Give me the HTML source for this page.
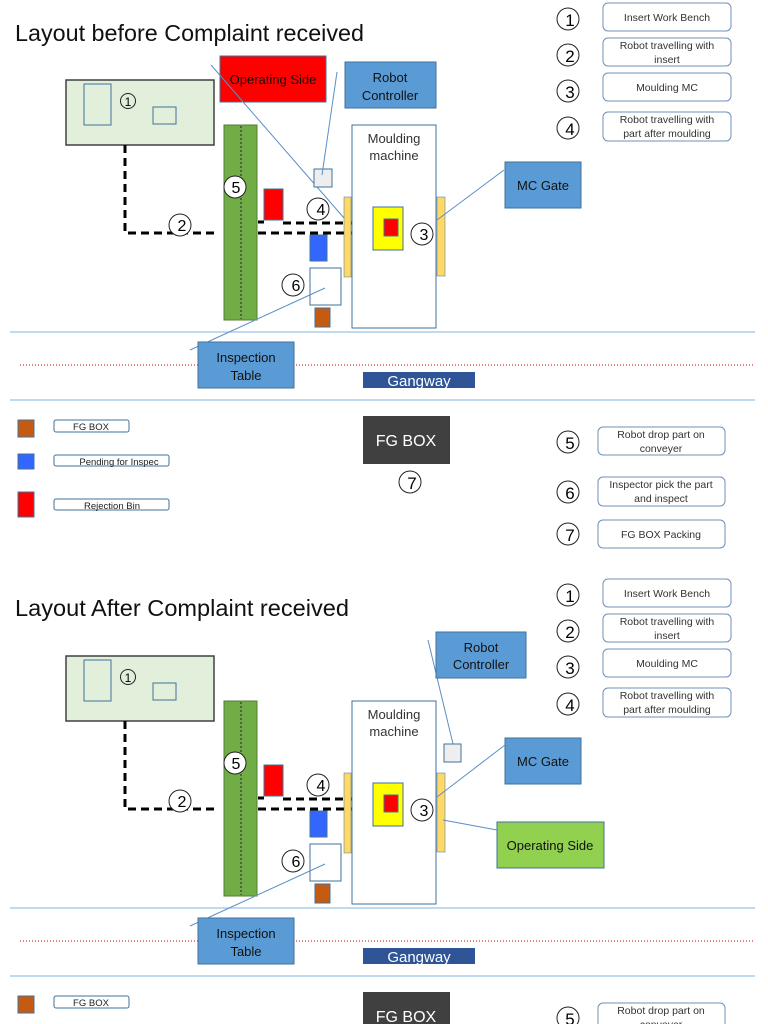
<!DOCTYPE html>
<html><head><meta charset="utf-8"><style>
html,body{margin:0;padding:0;background:#fff;}
svg{display:block;font-family:"Liberation Sans","DejaVu Sans",sans-serif;}
</style></head><body>
<svg width="768" height="1024" viewBox="0 0 768 1024" xmlns="http://www.w3.org/2000/svg">
<defs>
<g id="common">
  <rect x="66" y="80" width="148" height="65" fill="#e2efda" stroke="#404040" stroke-width="1.5"/>
  <rect x="84" y="84" width="27" height="41" fill="none" stroke="#41719c" stroke-width="1"/>
  <rect x="153" y="107" width="23" height="17" fill="none" stroke="#41719c" stroke-width="1"/>
  <circle cx="128" cy="101" r="7.5" fill="none" stroke="#222" stroke-width="1"/>
  <text x="128" y="106" font-size="12" text-anchor="middle">1</text>
  <path d="M125 145 V233 H218" fill="none" stroke="#000" stroke-width="3" stroke-dasharray="8,5"/>
  <path d="M258 233 H368" fill="none" stroke="#000" stroke-width="3" stroke-dasharray="8,5"/>
  <path d="M258 222 H264 M283 223 H368" fill="none" stroke="#000" stroke-width="3" stroke-dasharray="8,5"/>
  <rect x="224" y="125" width="33" height="195" fill="#70ad47" stroke="#507e32" stroke-width="1"/>
  <line x1="241" y1="126" x2="241" y2="319" stroke="#222" stroke-width="1" stroke-dasharray="2,2"/>
  <circle cx="235" cy="187" r="11" fill="#fff" stroke="#222" stroke-width="1"/>
  <text x="236" y="193" font-size="16" text-anchor="middle">5</text>
  <rect x="264" y="189" width="19" height="31" fill="#f00" stroke="#41719c" stroke-width="1"/>
  <circle cx="180" cy="225" r="11" fill="#fff" stroke="#222" stroke-width="1"/>
  <text x="182" y="231" font-size="16" text-anchor="middle">2</text>
  <circle cx="318" cy="209" r="11" fill="#fff" stroke="#222" stroke-width="1"/>
  <text x="321" y="215" font-size="16" text-anchor="middle">4</text>
  <rect x="310" y="235" width="17" height="26" fill="#3366ff" stroke="#41719c" stroke-width="1"/>
  <rect x="310" y="268" width="31" height="37" fill="#fff" stroke="#41719c" stroke-width="1"/>
  <circle cx="293" cy="285" r="11" fill="#fff" stroke="#222" stroke-width="1"/>
  <text x="296" y="291" font-size="16" text-anchor="middle">6</text>
  <rect x="315" y="308" width="15" height="19" fill="#c55a11" stroke="#41719c" stroke-width="1"/>
  <rect x="352" y="125" width="84" height="203" fill="#fff" stroke="#41719c" stroke-width="1"/>
  <text x="394" y="143" font-size="13" text-anchor="middle" fill="#333">Moulding</text>
  <text x="394" y="160" font-size="13" text-anchor="middle" fill="#333">machine</text>
  <rect x="344" y="197" width="7" height="80" fill="#ffd966" stroke="#41719c" stroke-width="0.5"/>
  <rect x="437" y="197" width="8" height="79" fill="#ffd966" stroke="#41719c" stroke-width="0.5"/>
  <rect x="373" y="207" width="30" height="43" fill="#ff0" stroke="#41719c" stroke-width="1"/>
  <rect x="384" y="219" width="14" height="17" fill="#f00" stroke="#41719c" stroke-width="1"/>
  <circle cx="422" cy="234" r="11" fill="#fff" stroke="#222" stroke-width="1"/>
  <text x="424" y="240" font-size="16" text-anchor="middle">3</text>
  <line x1="10" y1="332" x2="755" y2="332" stroke="#9dc3e6" stroke-width="1.2"/>
  <line x1="20" y1="365" x2="755" y2="365" stroke="#c00000" stroke-width="1" stroke-dasharray="1,2"/>
  <line x1="10" y1="400" x2="755" y2="400" stroke="#9dc3e6" stroke-width="1.2"/>
  <line x1="190" y1="350" x2="325" y2="288" stroke="#5b8fc7" stroke-width="1"/>
  <rect x="198" y="342" width="96" height="46" fill="#5b9bd5" stroke="#41719c" stroke-width="1"/>
  <text x="246" y="362" font-size="13" text-anchor="middle" fill="#111">Inspection</text>
  <text x="246" y="380" font-size="13" text-anchor="middle" fill="#111">Table</text>
  <rect x="363" y="372" width="112" height="16" fill="#2f5597"/>
  <text x="419" y="386" font-size="15" text-anchor="middle" fill="#fff">Gangway</text>
  <g font-size="10.5" text-anchor="middle" fill="#333">
    <circle cx="568" cy="19" r="11" fill="none" stroke="#222"/><text x="570" y="26" font-size="17" fill="#000">1</text>
    <rect x="603" y="3" width="128" height="28" rx="5" fill="#fff" stroke="#6f8fb8"/><text x="667" y="21">Insert Work Bench</text>
    <circle cx="568" cy="55" r="11" fill="none" stroke="#222"/><text x="570" y="62" font-size="17" fill="#000">2</text>
    <rect x="603" y="38" width="128" height="28" rx="5" fill="#fff" stroke="#6f8fb8"/><text x="667" y="49">Robot travelling with</text><text x="667" y="63">insert</text>
    <circle cx="568" cy="91" r="11" fill="none" stroke="#222"/><text x="570" y="98" font-size="17" fill="#000">3</text>
    <rect x="603" y="73" width="128" height="28" rx="5" fill="#fff" stroke="#6f8fb8"/><text x="667" y="91">Moulding MC</text>
    <circle cx="568" cy="128" r="11" fill="none" stroke="#222"/><text x="570" y="135" font-size="17" fill="#000">4</text>
    <rect x="603" y="112" width="128" height="29" rx="5" fill="#fff" stroke="#6f8fb8"/><text x="667" y="123">Robot travelling with</text><text x="667" y="137">part after moulding</text>
  </g>
  <rect x="18" y="420" width="16" height="17" fill="#c55a11" stroke="#41719c"/>
  <rect x="18" y="454" width="16" height="15" fill="#3366ff" stroke="#41719c"/>
  <g font-size="9.5" text-anchor="middle" fill="#222">
    <rect x="54" y="420" width="75" height="12" rx="2" fill="#fff" stroke="#41719c"/><text x="91" y="430">FG BOX</text>
  </g>
  <rect x="363" y="416" width="87" height="48" fill="#404040"/>
  <text x="406" y="446" font-size="16" text-anchor="middle" fill="#fff">FG BOX</text>
  <g font-size="10.5" text-anchor="middle" fill="#333">
    <circle cx="568" cy="442" r="11" fill="none" stroke="#222"/><text x="570" y="449" font-size="17" fill="#000">5</text>
    <rect x="598" y="427" width="127" height="28" rx="5" fill="#fff" stroke="#6f8fb8"/><text x="661" y="438">Robot drop part on</text><text x="661" y="452">conveyer</text>
  </g>
</g>
</defs>

<text x="15" y="41" font-size="23" fill="#111" textLength="349" lengthAdjust="spacingAndGlyphs">Layout before Complaint received</text>
<use href="#common"/>
<rect x="220" y="56" width="106" height="46" fill="#f00" stroke="#41719c" stroke-width="1"/>
<text x="273" y="84" font-size="13" text-anchor="middle" fill="#111">Operating Side</text>
<line x1="211" y1="65" x2="344" y2="218" stroke="#5b8fc7" stroke-width="1"/>
<rect x="345" y="62" width="91" height="46" fill="#5b9bd5" stroke="#41719c" stroke-width="1"/>
<text x="390" y="82" font-size="13" text-anchor="middle" fill="#111">Robot</text>
<text x="390" y="100" font-size="13" text-anchor="middle" fill="#111">Controller</text>
<rect x="314" y="169" width="18" height="18" fill="#eee" stroke="#41719c" stroke-width="1"/>
<line x1="337" y1="72" x2="322" y2="175" stroke="#5b8fc7" stroke-width="1"/>
<rect x="505" y="162" width="76" height="46" fill="#5b9bd5" stroke="#41719c" stroke-width="1"/>
<text x="543" y="190" font-size="13" text-anchor="middle" fill="#111">MC Gate</text>
<line x1="504" y1="170" x2="437" y2="220" stroke="#5b8fc7" stroke-width="1"/>
<rect x="18" y="492" width="16" height="25" fill="#f00" stroke="#41719c"/>
<g font-size="9.5" text-anchor="middle" fill="#222">
  <rect x="54" y="455" width="115" height="11" rx="2" fill="#fff" stroke="#41719c"/><text x="119" y="465">Pending for Inspec</text>
  <rect x="54" y="499" width="115" height="11" rx="2" fill="#fff" stroke="#41719c"/><text x="112" y="509">Rejection Bin</text>
</g>
<circle cx="410" cy="482" r="11" fill="none" stroke="#222"/><text x="412" y="489" font-size="17" text-anchor="middle">7</text>
<g font-size="10.5" text-anchor="middle" fill="#333">
  <circle cx="568" cy="492" r="11" fill="none" stroke="#222"/><text x="570" y="499" font-size="17" fill="#000">6</text>
  <rect x="598" y="477" width="127" height="29" rx="5" fill="#fff" stroke="#6f8fb8"/><text x="661" y="488">Inspector pick the part</text><text x="661" y="502">and inspect</text>
  <circle cx="568" cy="534" r="11" fill="none" stroke="#222"/><text x="570" y="541" font-size="17" fill="#000">7</text>
  <rect x="598" y="520" width="127" height="28" rx="5" fill="#fff" stroke="#6f8fb8"/><text x="661" y="538">FG BOX Packing</text>
</g>

<text x="15" y="616" font-size="23" fill="#111" textLength="334" lengthAdjust="spacingAndGlyphs">Layout After Complaint received</text>
<use href="#common" transform="translate(0,576)"/>
<line x1="428" y1="640" x2="453" y2="744" stroke="#5b8fc7" stroke-width="1"/>
<rect x="436" y="632" width="90" height="46" fill="#5b9bd5" stroke="#41719c" stroke-width="1"/>
<text x="481" y="652" font-size="13" text-anchor="middle" fill="#111">Robot</text>
<text x="481" y="669" font-size="13" text-anchor="middle" fill="#111">Controller</text>
<rect x="444" y="744" width="17" height="18" fill="#eee" stroke="#41719c" stroke-width="1"/>
<rect x="505" y="738" width="76" height="46" fill="#5b9bd5" stroke="#41719c" stroke-width="1"/>
<text x="543" y="766" font-size="13" text-anchor="middle" fill="#111">MC Gate</text>
<line x1="505" y1="745" x2="437" y2="797" stroke="#5b8fc7" stroke-width="1"/>
<rect x="497" y="822" width="107" height="46" fill="#92d050" stroke="#41719c" stroke-width="1"/>
<text x="550" y="850" font-size="13" text-anchor="middle" fill="#111">Operating Side</text>
<line x1="497" y1="830" x2="443" y2="820" stroke="#5b8fc7" stroke-width="1"/>
</svg>
</body></html>
